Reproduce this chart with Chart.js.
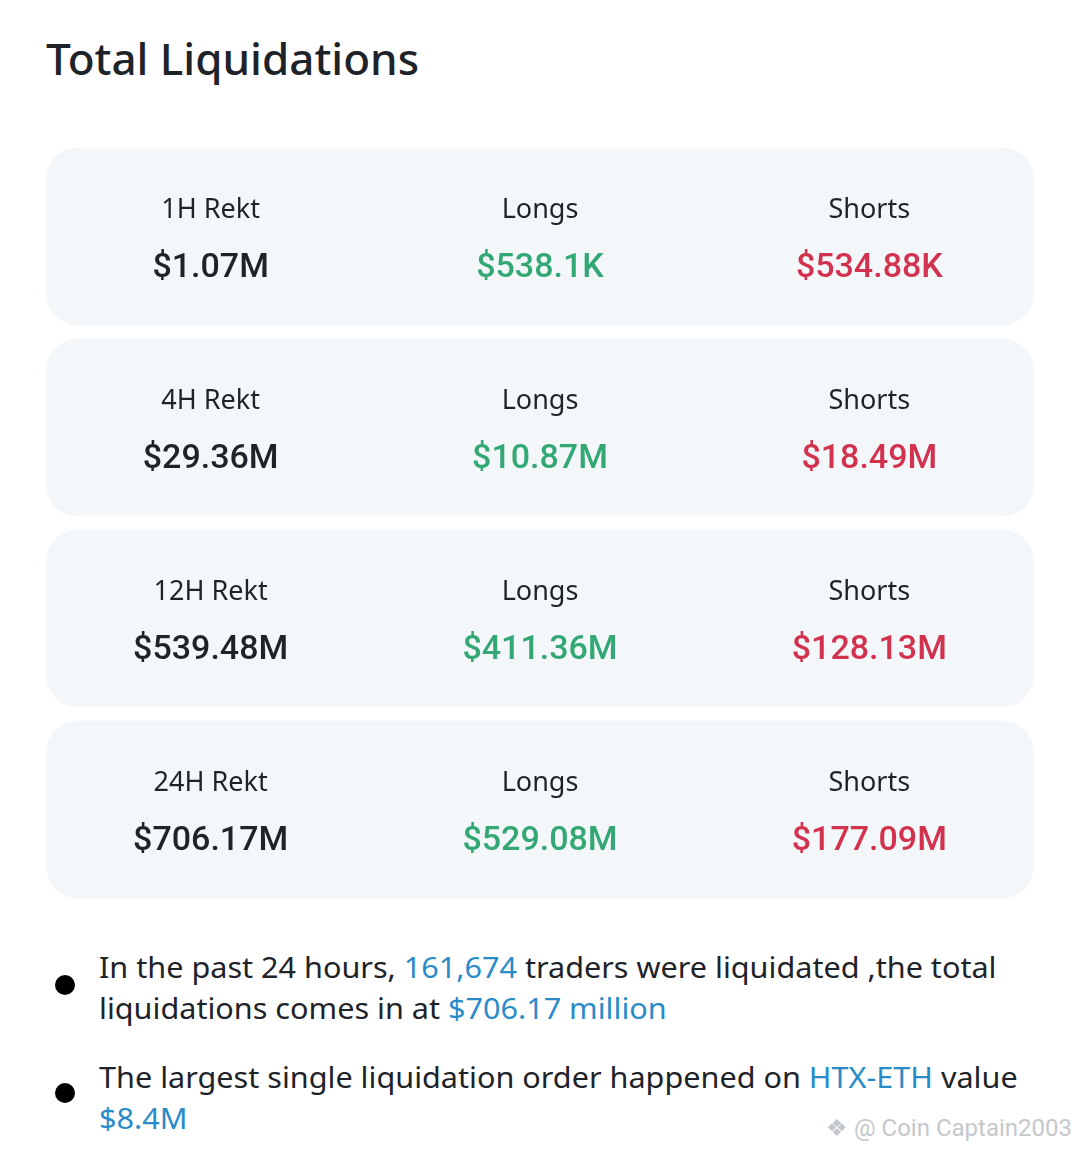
<!DOCTYPE html>
<html>
<head>
<meta charset="utf-8">
<script src="https://cdn.jsdelivr.net/npm/chart.js@4.4.1/dist/chart.umd.min.js"></script>
<style>
  html, body { margin: 0; padding: 0; background: #fff; }
  body { width: 1080px; height: 1155px; position: relative; overflow: hidden; font-family: "Noto Sans", sans-serif; color: #1e2329; }
  #title { position: absolute; left: 46px; top: 28px; margin: 0; font-size: 44px; font-weight: 500; line-height: 60px; }
  #cards { position: absolute; left: 0; top: 141px; width: 1080px; height: 764px; }
  .bullet { position: absolute; left: 99px; font-family: "Noto Sans", sans-serif; font-size: 29px; line-height: 41px; white-space: nowrap; }
  .bullet span.line { display: block; transform: scaleX(1.055); transform-origin: left center; }
  .bullet .dot { position: absolute; left: -44px; width: 20px; height: 20px; border-radius: 50%; background: #000; }
  .hl { color: #2a8bc9; }
  #mark { position: absolute; right: 8px; top: 1114px; font-family: Roboto, sans-serif; font-size: 24px; color: #c4c8cc; white-space: nowrap; }
</style>
</head>
<body>
<h1 id="title">Total Liquidations</h1>
<div id="cards"><canvas id="myChart"></canvas></div>

<div class="bullet" style="top:946px">
  <div class="dot" style="top:29px"></div>
  <span class="line">In the past 24 hours, <span class="hl">161,674</span> traders were liquidated ,the total</span>
  <span class="line">liquidations comes in at <span class="hl">$706.17 million</span></span>
</div>
<div class="bullet" style="top:1056px">
  <div class="dot" style="top:27px"></div>
  <span class="line">The largest single liquidation order happened on <span class="hl">HTX-ETH</span> value</span>
  <span class="line"><span class="hl">$8.4M</span></span>
</div>
<div id="mark">&#10070; @ Coin Captain2003</div>

<script>
// rows of the card list
var periods = ['1H Rekt', '4H Rekt', '12H Rekt', '24H Rekt'];
var totals = ['$1.07M', '$29.36M', '$539.48M', '$706.17M'];
var longs = ['$538.1K', '$10.87M', '$411.36M', '$529.08M'];
var shorts = ['$534.88K', '$18.49M', '$128.13M', '$177.09M'];
var sideTitles = ['Longs', 'Shorts'];

var labelColor = '#1e2329';
var longColor = '#33a874';
var shortColor = '#d3324f';

// draws the texts of every card at the scale positions
var cardText = {
    id: 'cardText',
    afterDatasetsDraw: function(chart) {
        var ctx = chart.ctx;
        var xs = chart.scales.x;
        var ys = chart.scales.y;
        ctx.save();
        ctx.textAlign = 'center';
        ctx.textBaseline = 'middle';
        periods.forEach(function(p, i) {
            var y = ys.getPixelForValue(i);
            var cols = [
                [p, totals[i], labelColor],
                [sideTitles[0], longs[i], longColor],
                [sideTitles[1], shorts[i], shortColor]
            ];
            cols.forEach(function(c, k) {
                var x = xs.getPixelForValue(k + 0.5);
                ctx.font = '27px "Noto Sans"';
                ctx.fillStyle = labelColor;
                ctx.fillText(c[0], x, y - 26);
                ctx.font = '500 34px Roboto';
                ctx.fillStyle = c[2];
                ctx.fillText(c[1], x, y + 32);
            });
        });
        ctx.restore();
    }
};

var ctx = document.getElementById('myChart').getContext('2d');
var chart = new Chart(ctx, {
    type: 'bar',
    data: {
        labels: periods,
        datasets: [{
            data: periods.map(function() { return [0, 3]; }),
            backgroundColor: '#f4f7fa',
            borderRadius: 32,
            borderSkipped: false,
            categoryPercentage: 1,
            barPercentage: 178 / 191
        }]
    },
    options: {
        indexAxis: 'y',
        responsive: true,
        maintainAspectRatio: false,
        animation: false,
        layout: { padding: { left: 46, right: 46, top: 0, bottom: 0 } },
        plugins: { legend: { display: false }, tooltip: { enabled: false } },
        scales: {
            x: { type: 'linear', min: 0, max: 3, display: false },
            y: { type: 'category', display: false }
        }
    },
    plugins: [cardText]
});
</script>
</body>
</html>
